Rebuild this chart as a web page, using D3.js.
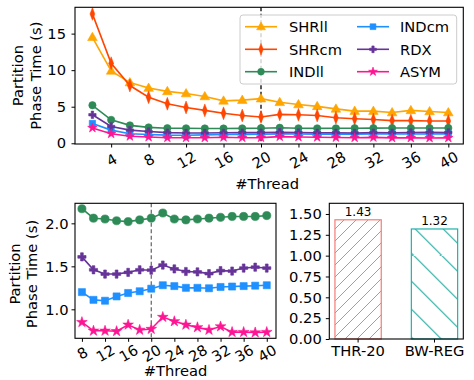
<!DOCTYPE html>
<html><head><meta charset="utf-8">
<script src="https://cdn.jsdelivr.net/npm/d3@7"></script>
<style>
body{margin:0;background:#fff;}
svg{font-family:"DejaVu Sans",sans-serif;}
</style></head><body>
<svg id="c" width="474" height="380"></svg>
<script>
// ---------------- data ----------------
const threads = [2,4,6,8,10,12,14,16,18,20,22,24,26,28,30,32,34,36,38,40];
const SHRll = [14.5,9.9,8.3,7.55,7.1,6.8,6.4,5.8,5.9,6.1,5.6,5.3,5.05,4.7,4.4,4.4,4.2,4.5,4.35,4.2];
const SHRcm = [17.7,10.95,7.9,6.3,5.4,4.9,4.5,4.1,3.8,3.6,3.95,3.9,3.8,3.5,3.35,3.25,3.1,3.1,3.05,3.05];
const INDll = [5.2,3.2,2.45,2.17,2.06,2.05,2.03,2.02,2.04,2.06,2.12,2.05,2.04,2.05,2.06,2.07,2.08,2.08,2.08,2.09];
const INDcm = [2.7,1.8,1.3,1.2,1.11,1.1,1.15,1.19,1.21,1.24,1.28,1.27,1.25,1.25,1.245,1.26,1.265,1.27,1.275,1.28];
const RDX   = [3.9,2.3,1.8,1.61,1.46,1.41,1.41,1.43,1.46,1.455,1.515,1.47,1.44,1.435,1.415,1.45,1.445,1.48,1.49,1.48];
const ASYM  = [2.1,1.3,0.95,0.85,0.75,0.75,0.745,0.82,0.76,0.77,0.91,0.86,0.82,0.79,0.76,0.8,0.735,0.735,0.73,0.735];
const seriesNames = ["SHRll","SHRcm","INDll","INDcm","RDX","ASYM"];
const seriesValues = [SHRll,SHRcm,INDll,INDcm,RDX,ASYM];
const zoomSeries = ["INDll","INDcm","RDX","ASYM"];
const zoomFrom = 8;
const markThread = 20;
const xTicksTop = [4,8,12,16,20,24,28,32,36,40];
const yTicksTop = [0,5,10,15];
const xTicksZoom = [8,12,16,20,24,28,32,36,40];
const yTicksZoom = [1.0,1.5,2.0];
const barCats = ["THR-20","BW-REG"];
const barVals = [1.43,1.32];
const barTicks = [0,0.25,0.5,0.75,1.0,1.25,1.5];

// ---------------- styles ----------------
const colors = {SHRll:"#FFA500",SHRcm:"#FF4500",INDll:"#2E8B57",INDcm:"#1E90FF",RDX:"#663399",ASYM:"#FF1493"};
const FS = 14.7;
const svg = d3.select("#c");

function drawMarker(g, name, x, y, k) {
  const c = colors[name];
  let p;
  if (name === "SHRll") {
    p = g.append("path").attr("d", d3.symbol().type(d3.symbolTriangle).size(40*k)()).attr("transform",`translate(${x},${y+0.5})`);
  } else if (name === "SHRcm") {
    p = g.append("path").attr("d", d3.symbol().type(d3.symbolDiamond).size(48*k)()).attr("transform",`translate(${x},${y}) scale(0.65,1)`);
  } else if (name === "INDll") {
    p = g.append("path").attr("d", d3.symbol().type(d3.symbolCircle).size(42*k)()).attr("transform",`translate(${x},${y})`);
  } else if (name === "INDcm") {
    p = g.append("path").attr("d", d3.symbol().type(d3.symbolSquare).size(40*k)()).attr("transform",`translate(${x},${y})`);
  } else if (name === "RDX") {
    p = g.append("path").attr("d", d3.symbol().type(d3.symbolCross).size(30*k)()).attr("transform",`translate(${x},${y})`);
  } else {
    p = g.append("path").attr("d", d3.symbol().type(d3.symbolStar).size(28*k)()).attr("transform",`translate(${x},${y})`);
  }
  p.attr("fill", c).attr("stroke", c).attr("stroke-width", 0.6);
}

function styleAxis(g) {
  g.select(".domain").remove();
  g.selectAll("line").attr("stroke","#000").attr("stroke-width",1);
  g.selectAll("text").attr("font-size",FS).attr("fill","#000").attr("font-family","DejaVu Sans");
}

// ================= TOP CHART =================
{
  const L=75,R=463.3,T=7.3,B=144;
  const x = d3.scaleLinear().domain([0.14,41.6]).range([L,R]);
  const y = d3.scaleLinear().domain([-0.1,18.6]).range([B,T]);
  const g = svg.append("g");
  g.append("defs").append("clipPath").attr("id","clipTop").append("rect").attr("x",L).attr("y",T).attr("width",R-L).attr("height",B-T);
  const plot = g.append("g").attr("clip-path","url(#clipTop)");
  plot.append("line").attr("x1",x(markThread)).attr("x2",x(markThread)).attr("y1",T).attr("y2",B)
    .attr("stroke","#000").attr("stroke-width",1.3).attr("stroke-dasharray","4,2.5");
  const line = d3.line().x((d,i)=>x(threads[i])).y(d=>y(d));
  seriesNames.forEach((n,si)=>{
    const vals = seriesValues[si];
    plot.append("path").attr("d",line(vals)).attr("fill","none").attr("stroke",colors[n]).attr("stroke-width",1.6);
    vals.forEach((v,i)=>drawMarker(plot,n,x(threads[i]),y(v),1));
  });
  const ax = g.append("g").attr("transform",`translate(0,${B})`)
    .call(d3.axisBottom(x).tickValues(xTicksTop).tickSize(3.5).tickFormat(d3.format("d")));
  styleAxis(ax);
  ax.selectAll("text").attr("y",0).attr("dy","0.35em").attr("text-anchor","middle").attr("transform","translate(0,16) rotate(-30)");
  const ay = g.append("g").attr("transform",`translate(${L},0)`)
    .call(d3.axisLeft(y).tickValues(yTicksTop).tickSize(3.5).tickPadding(5.5).tickFormat(d3.format("d")));
  styleAxis(ay);
  g.append("rect").attr("x",L).attr("y",T).attr("width",R-L).attr("height",B-T).attr("fill","none").attr("stroke","#000").attr("stroke-width",1.1);
  g.append("text").attr("x",(L+R)/2-2).attr("y",189).attr("text-anchor","middle").attr("font-size",FS).text("#Thread");
  const ycx = (T+B)/2;
  g.append("text").attr("transform",`translate(18,${ycx}) rotate(-90)`).attr("text-anchor","middle").attr("dy","0.35em").attr("font-size",FS).text("Partition");
  g.append("text").attr("transform",`translate(36,${ycx}) rotate(-90)`).attr("text-anchor","middle").attr("dy","0.35em").attr("font-size",FS).text("Phase Time (s)");

  // legend
  const lg = g.append("g");
  lg.append("rect").attr("x",240).attr("y",15).attr("width",216.7).attr("height",69).attr("rx",3)
    .attr("fill","#fff").attr("fill-opacity",0.8).attr("stroke","#ccc").attr("stroke-width",1);
  const colX = [245,357], txtX=[289,400], rowY=[26.7,49.3,71.7];
  seriesNames.forEach((n,i)=>{
    const c = Math.floor(i/3), r = i%3;
    lg.append("line").attr("x1",colX[c]).attr("x2",colX[c]+32).attr("y1",rowY[r]).attr("y2",rowY[r]).attr("stroke",colors[n]).attr("stroke-width",1.6);
    drawMarker(lg,n,colX[c]+16,rowY[r],0.85);
    lg.append("text").attr("x",txtX[c]).attr("y",rowY[r]).attr("dy","0.36em").attr("font-size",FS).text(n);
  });
}

// ================= BOTTOM-LEFT CHART =================
{
  const L=75,R=276,T=203.3,B=338.3;
  const x = d3.scaleLinear().domain([6.8,41.6]).range([L,R]);
  const y = d3.scaleLinear().domain([0.663,2.233]).range([B,T]);
  const g = svg.append("g");
  const idx = threads.map((t,i)=>i).filter(i=>threads[i]>=zoomFrom);
  g.append("line").attr("x1",x(markThread)).attr("x2",x(markThread)).attr("y1",T).attr("y2",B)
    .attr("stroke","#555").attr("stroke-width",1.1).attr("stroke-dasharray","4,2.5");
  zoomSeries.forEach(n=>{
    const vals = seriesValues[seriesNames.indexOf(n)];
    const ln = d3.line().x(i=>x(threads[i])).y(i=>y(vals[i]));
    g.append("path").attr("d",ln(idx)).attr("fill","none").attr("stroke",colors[n]).attr("stroke-width",1.6);
    idx.forEach(i=>drawMarker(g,n,x(threads[i]),y(vals[i]),1.25));
  });
  const ax = g.append("g").attr("transform",`translate(0,${B})`)
    .call(d3.axisBottom(x).tickValues(xTicksZoom).tickSize(3.5).tickFormat(d3.format("d")));
  styleAxis(ax);
  ax.selectAll("text").attr("y",0).attr("dy","0.35em").attr("text-anchor","middle").attr("transform","translate(0,15) rotate(-30)");
  const ay = g.append("g").attr("transform",`translate(${L},0)`)
    .call(d3.axisLeft(y).tickValues(yTicksZoom).tickSize(3.5).tickPadding(3).tickFormat(d3.format(".1f")));
  styleAxis(ay);
  g.append("rect").attr("x",L).attr("y",T).attr("width",R-L).attr("height",B-T).attr("fill","none").attr("stroke","#000").attr("stroke-width",1.1);
  g.append("text").attr("x",(L+R)/2).attr("y",375.5).attr("text-anchor","middle").attr("font-size",FS).text("#Thread");
  const ycx = 274;
  g.append("text").attr("transform",`translate(15,${ycx}) rotate(-90)`).attr("text-anchor","middle").attr("dy","0.35em").attr("font-size",FS).text("Partition");
  g.append("text").attr("transform",`translate(32,${ycx}) rotate(-90)`).attr("text-anchor","middle").attr("dy","0.35em").attr("font-size",FS).text("Phase Time (s)");
}

// ================= BOTTOM-RIGHT BAR CHART =================
{
  const L=329.3,R=463.3,T=203.3,B=339;
  const x = d3.scaleBand().domain(barCats).range([L,R]).paddingInner(0.394).paddingOuter(0.074);
  const y = d3.scaleLinear().domain([0,1.628]).range([B,T]);
  const g = svg.append("g");
  const defs = g.append("defs");
  const p1 = defs.append("pattern").attr("id","hatchA").attr("patternUnits","userSpaceOnUse").attr("width",12).attr("height",12);
  p1.append("path").attr("d","M-3,3 L3,-3 M0,12 L12,0 M9,15 L15,9").attr("stroke","#F47C76").attr("stroke-width",1);
  const p2 = defs.append("pattern").attr("id","hatchB").attr("patternUnits","userSpaceOnUse").attr("width",28).attr("height",28).attr("x",L).attr("y",B);
  p2.append("path").attr("d","M-4,24 L4,32 M0,0 L28,28 M24,-4 L32,4").attr("stroke","#1FA99F").attr("stroke-width",1.1);
  const fills = ["url(#hatchA)","url(#hatchB)"];
  const edges = ["#F47C76","#20B2AA"];
  barCats.forEach((c,i)=>{
    g.append("rect").attr("x",x(c)).attr("y",y(barVals[i])).attr("width",x.bandwidth()).attr("height",B-y(barVals[i]))
      .attr("fill",fills[i]).attr("stroke",edges[i]).attr("stroke-width",1.2);
    g.append("text").attr("x",x(c)+x.bandwidth()/2).attr("y",y(barVals[i])-4).attr("text-anchor","middle").attr("font-size",12).text(barVals[i].toFixed(2));
  });
  const ax = g.append("g").attr("transform",`translate(0,${B})`)
    .call(d3.axisBottom(x).tickSize(3.5).tickPadding(3.5));
  styleAxis(ax);
  const ay = g.append("g").attr("transform",`translate(${L},0)`)
    .call(d3.axisLeft(y).tickValues(barTicks).tickSize(3.5).tickPadding(4).tickFormat(d3.format(".2f")));
  styleAxis(ay);
  g.append("rect").attr("x",L).attr("y",T).attr("width",R-L).attr("height",B-T).attr("fill","none").attr("stroke","#000").attr("stroke-width",1.1);
}
</script>
</body></html>
